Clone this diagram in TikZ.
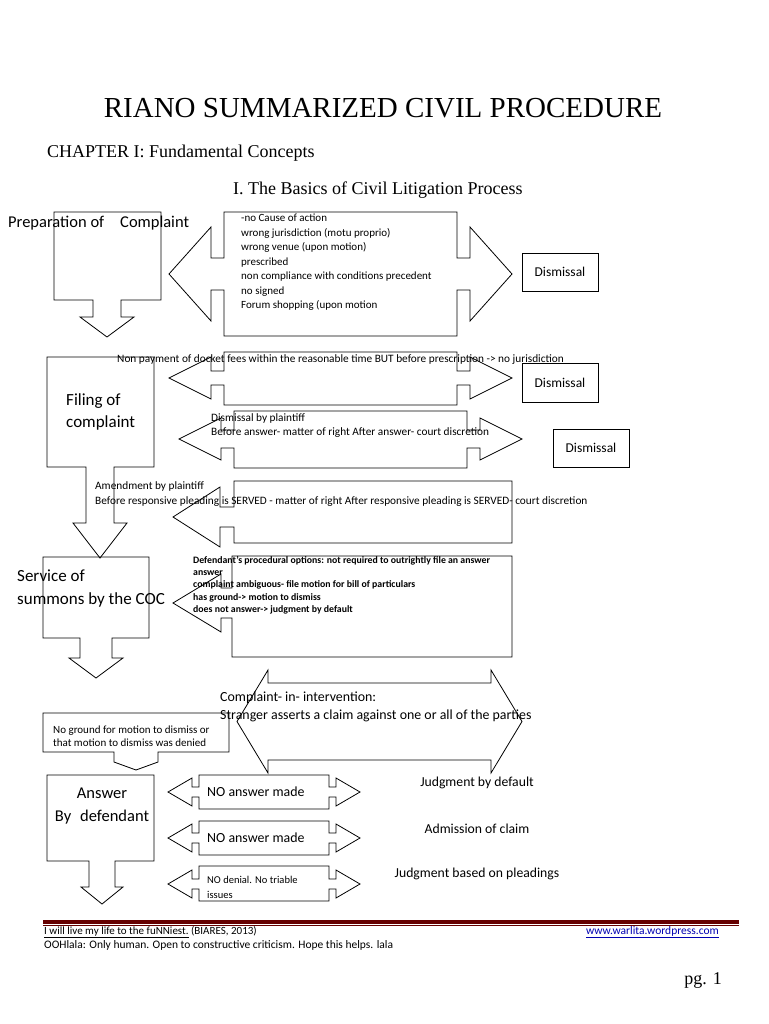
\documentclass[tikz,border=0pt]{standalone}
\usepackage{fontspec}
\setmainfont{Carlito}
\newfontfamily\serifface{Liberation Serif}
\tikzset{
  shp/.style={draw, line width=0.8pt, line join=miter},
  txt/.style={anchor=west, inner sep=0pt, align=left},
  ctx/.style={anchor=center, inner sep=0pt, align=center},
  dbox/.style={draw, line width=0.8pt, minimum width=76pt, inner sep=0pt, font=\fontsize{13.5}{15}\selectfont},
}
% x1 y1 x2 y2 cy shafthalf headhalf shaftlen tiplen
\newcommand\lrcall[9]{\draw[shp] (#1,#2) -- (#3,#2) -- (#3,{#5-#6}) -- ({#3+#8},{#5-#6}) -- ({#3+#8},{#5-#7}) -- ({#3+#9},#5) -- ({#3+#8},{#5+#7}) -- ({#3+#8},{#5+#6}) -- (#3,{#5+#6}) -- (#3,#4) -- (#1,#4) -- (#1,{#5+#6}) -- ({#1-#8},{#5+#6}) -- ({#1-#8},{#5+#7}) -- ({#1-#9},#5) -- ({#1-#8},{#5-#7}) -- ({#1-#8},{#5-#6}) -- (#1,{#5-#6}) -- cycle;}
\newcommand\lcall[9]{\draw[shp] (#1,#2) -- (#3,#2) -- (#3,#4) -- (#1,#4) -- (#1,{#5+#6}) -- ({#1-#8},{#5+#6}) -- ({#1-#8},{#5+#7}) -- ({#1-#9},#5) -- ({#1-#8},{#5-#7}) -- ({#1-#8},{#5-#6}) -- (#1,{#5-#6}) -- cycle;}
% x1 y1 x2 y2 cx shafthalf headhalf shaftlen tiplen
\newcommand\dcall[9]{\draw[shp] (#1,#2) -- (#3,#2) -- (#3,#4) -- ({#5+#6},#4) -- ({#5+#6},{#4+#8}) -- ({#5+#7},{#4+#8}) -- (#5,{#4+#9}) -- ({#5-#7},{#4+#8}) -- ({#5-#6},{#4+#8}) -- ({#5-#6},#4) -- (#1,#4) -- cycle;}
\begin{document}
\begin{tikzpicture}[x=1pt,y=-1pt]
\useasboundingbox (0,0) rectangle (768,1024);
\fill[white] (0,0) rectangle (768,1024);

% headings
\node[ctx] (title) at (383,108) {\serifface\fontsize{29}{32}\selectfont RIANO SUMMARIZED CIVIL PROCEDURE};
\node[txt] (chap) at (47,153) {\serifface\fontsize{18}{20}\selectfont CHAPTER I: Fundamental Concepts};
\node[txt] (sec) at (233,190) {\serifface\fontsize{18}{20}\selectfont I. The Basics of Civil Litigation Process};

% down callouts (process steps)
\dcall{54}{212}{161}{300}{107}{14}{27}{17}{37}
\dcall{47}{357}{154}{467}{100}{14}{27}{56}{91}
\dcall{43}{557}{149}{638}{96}{16}{27}{20}{40}
\dcall{43}{713}{229}{752}{136}{22}{22}{10}{18}
\dcall{47}{775}{154}{861}{102}{13}{21}{26}{43}

% side callouts
\lrcall{224}{212}{457}{336}{274}{16}{47}{13}{55}
\lrcall{224}{352}{457}{405}{378}{7}{21}{13}{55}
\lrcall{234}{411}{467}{468}{439}{9}{21}{13}{55}
\lcall{234}{481}{512}{543}{517}{10}{30}{14}{61}
\lcall{232}{556}{512}{657}{603}{15}{29}{11}{59}
\lrcall{268}{683}{491}{760}{721.5}{38.5}{51.5}{0}{31}
\lrcall{199}{775}{329}{809}{792}{5}{14}{7}{31}
\lrcall{199}{821}{329}{855}{838}{5}{14}{7}{31}
\lrcall{199}{866}{329}{901}{884}{5}{14}{7}{31}

% dismissal boxes
\node[dbox, minimum height=38pt] (d1) at (560,272) {Dismissal};
\node[dbox, minimum height=39pt] (d2) at (560,382.5) {Dismissal};
\node[dbox, minimum height=38pt] (d3) at (591,448) {Dismissal};

% step labels
\node[txt, font=\fontsize{16.5}{18}\selectfont] (prep) at (8,223) {Preparation of\hspace{16pt}Complaint};
\node[txt, font=\fontsize{17}{22}\selectfont] (filing) at (66,412) {Filing of\\complaint};
\node[txt, font=\fontsize{17}{23}\selectfont] (serv) at (17,589) {Service of\\summons by the COC};
\node[ctx, font=\fontsize{16.5}{23}\selectfont] (ans) at (102,806) {Answer\\By\hspace{9pt}defendant};
\node[txt, font=\fontsize{11}{13}\selectfont] (nog) at (53,736.5) {No ground for motion to dismiss or\\that motion to dismiss was denied};

% callout texts
\node[txt, anchor=north west, font=\fontsize{11}{14.5}\selectfont] (grounds) at (241,214) {-no Cause of action\\wrong jurisdiction (motu proprio)\\wrong venue (upon motion)\\prescribed\\non compliance with conditions precedent\\no signed\\Forum shopping (upon motion};
\node[txt, font=\fontsize{11.3}{12}\selectfont] (fees) at (117,360) {Non payment of docket fees within the reasonable time BUT before prescription -> no jurisdiction};
\node[txt, font=\fontsize{11.3}{14}\selectfont] (dbp) at (211,426) {Dismissal by plaintiff\\Before answer- matter of right After answer- court discretion};
\node[txt, font=\fontsize{11.3}{15}\selectfont] (amd) at (95,494.5) {Amendment by plaintiff\\Before responsive pleading is SERVED - matter of right After responsive pleading is SERVED- court discretion};
\node[txt, anchor=north west, font=\fontsize{9.8}{12.3}\selectfont\bfseries] (opts) at (193,556) {Defendant's procedural options: not required to outrightly file an answer\\answer\\complaint ambiguous- file motion for bill of particulars\\has ground-> motion to dismiss\\does not answer-> judgment by default};
\node[txt, font=\fontsize{13.9}{18}\selectfont] (cii) at (220,707) {Complaint- in- intervention:\\Stranger asserts a claim against one or all of the parties};
\node[txt, font=\fontsize{13.9}{15}\selectfont] (na1) at (207,792) {NO answer made};
\node[txt, font=\fontsize{13.9}{15}\selectfont] (na2) at (207,838) {NO answer made};
\node[txt, font=\fontsize{10.5}{15}\selectfont] (nd) at (207,887.5) {NO denial. No triable\\issues};
\node[ctx, font=\fontsize{13.7}{15}\selectfont] (r1) at (477,783) {Judgment by default};
\node[ctx, font=\fontsize{13.7}{15}\selectfont] (r2) at (477,829) {Admission of claim};
\node[ctx, font=\fontsize{13.7}{15}\selectfont] (r3) at (477,874) {Judgment based on pleadings};

% footer
\fill[red!40!black] (43,920) rectangle (739,924);
\draw[red!40!black, line width=0.4pt] (43,925.5) -- (739,925.5);
\node[txt, font=\fontsize{11}{12}\selectfont] (f1) at (44,932) {\underline{I will live my life to the fuNNiest.} (BIARES, 2013)};
\node[anchor=east, inner sep=0pt, font=\fontsize{11.5}{12}\selectfont, text=blue!70!black] (url) at (719,932) {\underline{www.warlita.wordpress.com}};
\node[txt, font=\fontsize{11.5}{12}\selectfont] (f2) at (44,945) {OOHlala: Only human. Open to constructive criticism. Hope this helps. lala};
\node[anchor=east, inner sep=0pt, font=\serifface\fontsize{18}{20}\selectfont] (pg) at (722,980) {pg. 1};
\end{tikzpicture}
\end{document}
